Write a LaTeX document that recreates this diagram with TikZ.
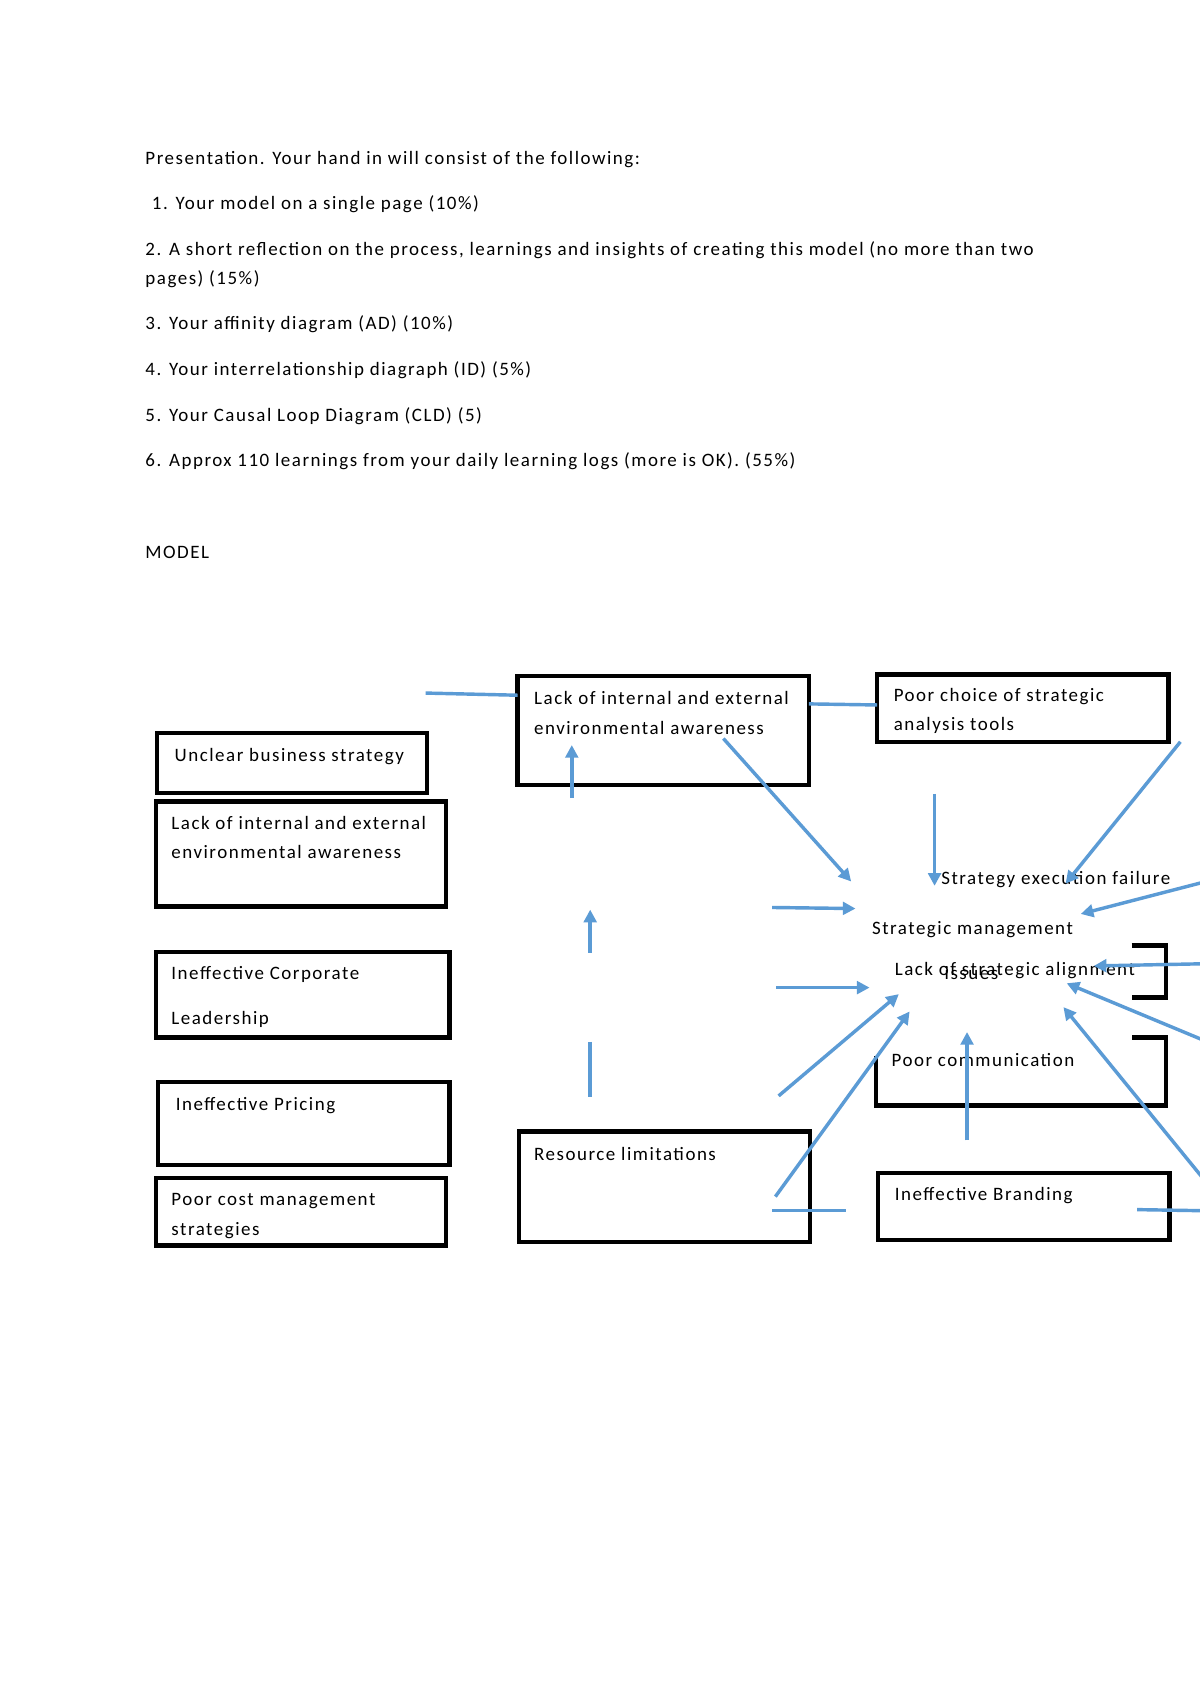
\documentclass[tikz,border=0pt]{standalone}
\usepackage{fontspec}
\setmainfont[LetterSpace=8]{Carlito}
\usetikzlibrary{arrows.meta}
\definecolor{ablue}{RGB}{91,155,213}
\begin{document}
\begin{tikzpicture}[x=0.6pt,y=-0.6pt,
  txt/.style={anchor=west,inner sep=0pt,font=\fontsize{10.5pt}{12pt}\selectfont},
  bx/.style={draw=black,line width=2.4pt},
  ln/.style={draw=ablue,line width=1.9pt},
  ar/.style={ln,-{Triangle[length=7pt,width=7pt]}}]
\useasboundingbox (0,0) rectangle (1108,1568);
\fill[white] (0,0) rectangle (1108,1568);
% header text
\node[txt] (t1) at (134,147) {Presentation. Your hand in will consist of the following:};
\node[txt] (t2) at (140,189) {1. Your model on a single page (10\%)};
\node[txt] (t3) at (134,231) {2. A short reflection on the process, learnings and insights of creating this model (no more than two};
\node[txt] (t4) at (134,258) {pages) (15\%)};
\node[txt] (t5) at (134,299) {3. Your affinity diagram (AD) (10\%)};
\node[txt] (t6) at (134,342) {4. Your interrelationship diagraph (ID) (5\%)};
\node[txt] (t7) at (134,384) {5. Your Causal Loop Diagram (CLD) (5)};
\node[txt] (t8) at (134,426) {6. Approx 110 learnings from your daily learning logs (more is OK). (55\%)};
\node[txt] (t9) at (134,510) {MODEL};
% boxes
\draw[bx] (145,677) rectangle (394,732);
\node[txt] (b1) at (161,699) {Unclear business strategy};
\draw[bx] (144,740) rectangle (412,837);
\node[txt] (b2a) at (158,760) {Lack of internal and external};
\node[txt] (b2b) at (158,787) {environmental awareness};
\draw[bx] (144,879) rectangle (415,958);
\node[txt] (b3a) at (158,900) {Ineffective Corporate};
\node[txt] (b3b) at (158,941) {Leadership};
\draw[bx] (146,999) rectangle (415,1076);
\node[txt] (b4) at (162,1021) {Ineffective Pricing};
\draw[bx] (144,1088) rectangle (412,1150);
\node[txt] (b5a) at (158,1109) {Poor cost management};
\node[txt] (b5b) at (158,1136) {strategies};
\draw[bx] (478,624) rectangle (747,725);
\node[txt] (c1a) at (493,645) {Lack of internal and external};
\node[txt] (c1b) at (493,672) {environmental awareness};
\draw[bx] (810,623) rectangle (1079,685);
\node[txt] (d1a) at (825,643) {Poor choice of strategic};
\node[txt] (d1b) at (825,670) {analysis tools};
\draw[bx] (479,1045) rectangle (748,1147);
\node[txt] (c2) at (493,1066) {Resource limitations};
\draw[bx] (809,975) -- (809,1021) -- (1077,1021) -- (1077,958) -- (1045,958);
\node[txt] (d3) at (823,979) {Poor communication};
\draw[bx] (1045,873) -- (1077,873) -- (1077,921) -- (1045,921);
\draw[bx] (811,1083) rectangle (1080,1145);
\node[txt] (d4) at (826,1104) {Ineffective Branding};
% central texts
\node[txt] (s1) at (869,812) {Strategy execution failure};
\node[txt] (s2) at (805,858) {Strategic management};
\node[txt] (s3) at (826,896) {Lack of strategic alignment};
\node[txt] (s4) at (872,899) {issues};
% connectors
\coordinate (p1) at (393,640); \coordinate (q1) at (478,642);
\coordinate (p2) at (747,650); \coordinate (q2) at (810,651);
\coordinate (p3) at (528,737); \coordinate (q3) at (528,688);
\coordinate (p4) at (668,682); \coordinate (q4) at (786,814);
\coordinate (p5) at (863,733); \coordinate (q5) at (863,818);
\coordinate (p6) at (1090,685); \coordinate (q6) at (984,816);
\coordinate (p7) at (1110,815); \coordinate (q7) at (998,844);
\coordinate (p8) at (713,838); \coordinate (q8) at (790,839);
\coordinate (p9) at (545,880); \coordinate (q9) at (545,840);
\coordinate (p10) at (545,962); \coordinate (q10) at (545,1013);
\coordinate (p11) at (717,912); \coordinate (q11) at (803,912);
\coordinate (p12) at (719,1012); \coordinate (q12) at (830,918);
\coordinate (p13) at (716,1105); \coordinate (q13) at (840,934);
\coordinate (p14) at (713,1118); \coordinate (q14) at (781,1118);
\coordinate (p15) at (893,1053); \coordinate (q15) at (893,953);
\coordinate (p16) at (1110,890); \coordinate (q16) at (1010,892);
\coordinate (p17) at (1110,960); \coordinate (q17) at (985,908);
\coordinate (p18) at (1110,1087); \coordinate (q18) at (982,930);
\coordinate (p19) at (1050,1117); \coordinate (q19) at (1110,1118);
\draw[ln] (p1) -- (q1);
\draw[ln] (p2) -- (q2);
\draw[ar] (p3) -- (q3);
\draw[ar] (p4) -- (q4);
\draw[ar] (p5) -- (q5);
\draw[ar] (p6) -- (q6);
\draw[ar] (p7) -- (q7);
\draw[ar] (p8) -- (q8);
\draw[ar] (p9) -- (q9);
\draw[ln] (p10) -- (q10);
\draw[ar] (p11) -- (q11);
\draw[ar] (p12) -- (q12);
\draw[ar] (p13) -- (q13);
\draw[ln] (p14) -- (q14);
\draw[ar] (p15) -- (q15);
\draw[ar] (p16) -- (q16);
\draw[ar] (p17) -- (q17);
\draw[ar] (p18) -- (q18);
\draw[ln] (p19) -- (q19);
\end{tikzpicture}
\end{document}
